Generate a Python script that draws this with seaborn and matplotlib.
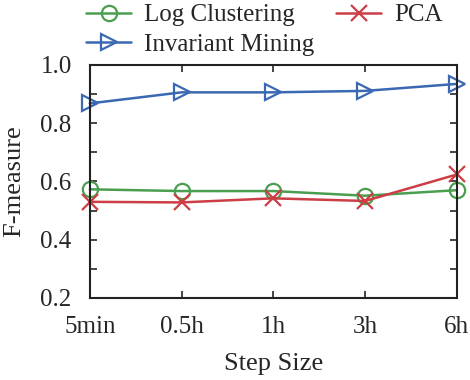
import seaborn as sns
import pandas as pd
import matplotlib.pyplot as plt
from matplotlib.ticker import MultipleLocator

steps = ['5min', '0.5h', '1h', '3h', '6h']
logClustering = [0.573, 0.567, 0.567, 0.551, 0.570]
pca = [0.530, 0.528, 0.542, 0.533, 0.624]
invariantMining = [0.868, 0.906, 0.906, 0.911, 0.935]

sns.set_style('ticks')
plt.rcParams['font.family'] = ['Liberation Serif', 'DejaVu Serif']

base = pd.DataFrame({'step': steps, 'Log Clustering': logClustering,
                     'Invariant Mining': invariantMining, 'PCA': pca})

fig = plt.figure(figsize=(4.7, 3.8), dpi=100)
ax = fig.add_axes([0.191, 0.216, 0.781, 0.613])

estilos = {
    'Log Clustering': ('#4a9e4f', 'o'),
    'Invariant Mining': ('#3b68b3', '>'),
    'PCA': ('#cc3d45', 'x'),
}
for nome, (cor, marcador) in estilos.items():
    sns.lineplot(data=base, x='step', y=nome, ax=ax, color=cor, marker=marcador,
                 markersize=11, markerfacecolor='none', markeredgecolor=cor,
                 markeredgewidth=1.6, linewidth=1.8, label=nome, clip_on=False)

ax.set_xlim(0, len(steps) - 1)
ax.set_ylim(0.2, 1.0)
ax.yaxis.set_major_locator(MultipleLocator(0.2))
ax.yaxis.set_minor_locator(MultipleLocator(0.1))
ax.tick_params(which='both', direction='in', top=True, right=True, length=5, width=1.2,
               labelsize=18)
ax.tick_params(axis='x', pad=13)
ax.tick_params(axis='y', pad=13)
for s in ax.spines.values():
    s.set_linewidth(1.5)
    s.set_color('#222222')

ax.set_xlabel('Step Size', fontsize=19, labelpad=11)
ax.set_ylabel('F-measure', fontsize=19, labelpad=11)

ax.legend(ncol=2, loc='upper left', bbox_to_anchor=(86 / 470, 0.99),
          bbox_transform=fig.transFigure, frameon=False,
          fontsize=18, handlelength=1.8, columnspacing=0.9, labelspacing=0.28,
          handletextpad=0.5, borderaxespad=0.0, borderpad=0.0)

plt.savefig('out.png', dpi=100)
